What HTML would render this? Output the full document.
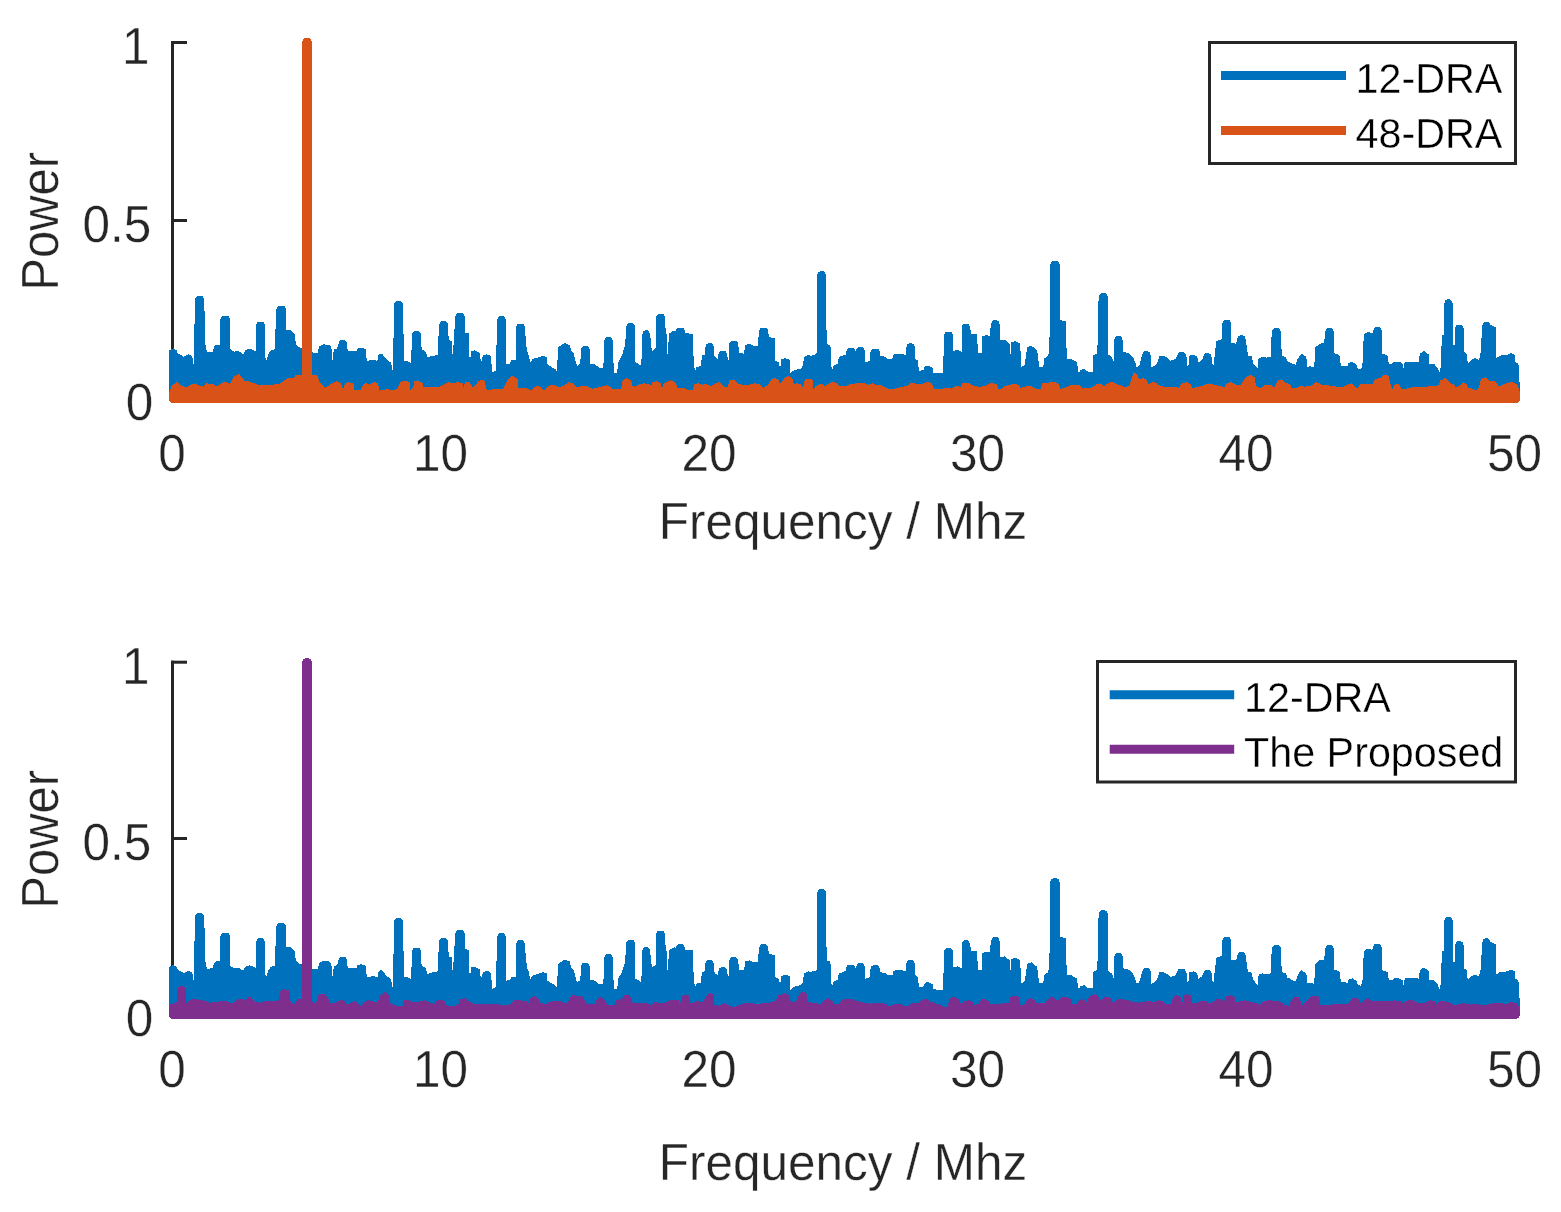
<!DOCTYPE html>
<html><head><meta charset="utf-8"><title>Power spectrum</title>
<style>html,body{margin:0;padding:0;background:#fff;overflow:hidden;}svg{display:block;}</style></head>
<body><svg width="1561" height="1212" viewBox="0 0 1561 1212" font-family="'Liberation Sans', Arial, Helvetica, sans-serif">
<rect width="1561" height="1212" fill="#fff"/>
<rect x="171" y="41.00" width="3" height="357.50" fill="#262626"/>
<rect x="171" y="41.00" width="16" height="3" fill="#262626"/>
<rect x="171" y="219.00" width="16" height="3" fill="#262626"/>
<text transform="translate(149.50,63.80) scale(1,1.03)" font-size="49.5" text-anchor="end" fill="#262626" stroke="#fff" stroke-width="0.35">1</text>
<text transform="translate(151.30,241.80) scale(1,1.03)" font-size="49.5" text-anchor="end" fill="#262626" stroke="#fff" stroke-width="0.35">0.5</text>
<text transform="translate(153.30,419.80) scale(1,1.03)" font-size="49.5" text-anchor="end" fill="#262626" stroke="#fff" stroke-width="0.35">0</text>
<text transform="translate(172.00,471.40) scale(1,1.03)" font-size="49.5" text-anchor="middle" fill="#262626" stroke="#fff" stroke-width="0.35">0</text>
<text transform="translate(440.50,471.40) scale(1,1.03)" font-size="49.5" text-anchor="middle" fill="#262626" stroke="#fff" stroke-width="0.35">10</text>
<text transform="translate(709.00,471.40) scale(1,1.03)" font-size="49.5" text-anchor="middle" fill="#262626" stroke="#fff" stroke-width="0.35">20</text>
<text transform="translate(977.50,471.40) scale(1,1.03)" font-size="49.5" text-anchor="middle" fill="#262626" stroke="#fff" stroke-width="0.35">30</text>
<text transform="translate(1246.00,471.40) scale(1,1.03)" font-size="49.5" text-anchor="middle" fill="#262626" stroke="#fff" stroke-width="0.35">40</text>
<text transform="translate(1514.50,471.40) scale(1,1.03)" font-size="49.5" text-anchor="middle" fill="#262626" stroke="#fff" stroke-width="0.35">50</text>
<text transform="translate(843.00,538.70) scale(1,1.045)" font-size="49.5" text-anchor="middle" fill="#262626" stroke="#fff" stroke-width="0.35">Frequency / Mhz</text>
<text transform="translate(58.00,221.35) rotate(-90) scale(1,1.045)" font-size="49" text-anchor="middle" fill="#262626" stroke="#fff" stroke-width="0.35">Power</text>
<path d="M172.1,403.0 L169.8,401.8 L168.6,399.5 L168.6,356.9 L169.2,350.3 L173.2,348.3 L176.5,350.3 L177.8,353.6 L181.1,354.9 L183.8,356.9 L185.7,355.6 L189.0,354.3 L192.3,356.3 L193.7,364.8 L195.0,299.5 L196.0,297.0 L197.5,295.8 L201.7,295.8 L203.2,297.0 L204.2,299.5 L205.5,345.0 L206.9,352.3 L212.8,351.6 L214.1,346.4 L216.8,344.4 L220.1,345.0 L220.5,319.3 L221.5,316.8 L223.0,315.6 L227.5,315.6 L229.0,316.8 L230.0,319.3 L230.0,349.0 L233.9,351.6 L238.5,351.0 L243.2,354.3 L245.8,349.7 L249.8,348.7 L255.0,351.0 L256.1,351.6 L256.1,325.3 L257.1,322.8 L258.6,321.6 L262.4,321.6 L263.9,322.8 L264.9,325.3 L265.6,362.9 L268.2,354.3 L270.9,350.3 L274.8,349.3 L276.2,309.4 L277.2,306.9 L278.7,305.7 L283.6,305.7 L285.1,306.9 L286.1,309.4 L286.1,330.5 L290.0,329.9 L294.6,334.5 L296.0,344.4 L299.9,347.7 L301.9,347.7 L311.8,352.3 L317.7,353.0 L319.1,346.4 L323.7,344.4 L330.0,345.0 L331.9,350.3 L332.5,359.6 L333.9,349.7 L337.2,348.3 L338.5,343.8 L339.5,341.3 L341.0,340.1 L344.6,340.1 L346.1,341.3 L347.1,343.8 L347.7,351.6 L351.7,351.0 L356.3,351.6 L357.6,348.3 L361.6,347.7 L365.5,349.0 L366.9,360.9 L372.8,359.6 L377.4,360.9 L378.7,354.3 L382.0,353.6 L386.7,359.6 L391.3,362.9 L392.3,374.1 L393.3,355.6 L393.9,304.8 L394.9,302.3 L396.4,301.1 L400.7,301.1 L402.2,302.3 L403.2,304.8 L403.8,360.9 L407.1,360.9 L411.1,362.9 L412.0,334.5 L413.0,332.0 L414.5,330.8 L418.5,330.8 L420.0,332.0 L421.0,334.5 L421.6,349.0 L425.6,351.6 L427.6,357.6 L430.9,356.3 L437.5,354.9 L439.1,324.6 L440.1,322.1 L441.6,320.9 L445.5,320.9 L447.0,322.1 L448.0,324.6 L448.7,339.8 L452.0,341.1 L452.7,358.2 L455.3,316.7 L456.3,314.2 L457.8,313.0 L462.4,313.0 L463.9,314.2 L464.9,316.7 L465.2,332.5 L468.5,333.2 L469.8,363.5 L471.1,351.0 L475.1,350.3 L479.7,353.0 L481.0,362.9 L483.0,355.6 L487.0,354.3 L490.0,355.6 L491.2,356.9 L491.9,372.8 L495.8,370.8 L497.2,320.0 L498.2,317.5 L499.7,316.3 L503.5,316.3 L505.0,317.5 L506.0,320.0 L506.4,364.2 L509.7,363.5 L511.7,360.2 L515.6,360.2 L516.0,327.3 L517.0,324.8 L518.5,323.6 L522.4,323.6 L523.9,324.8 L524.9,327.3 L525.5,335.8 L526.9,351.0 L528.8,355.6 L530.2,362.9 L532.8,358.9 L538.1,357.6 L542.7,355.6 L546.7,356.9 L547.3,364.2 L551.3,366.8 L555.9,369.5 L556.6,371.4 L558.5,347.0 L564.5,343.1 L569.8,345.0 L571.1,351.0 L573.7,353.6 L575.0,358.9 L577.0,366.2 L580.3,363.5 L581.0,349.7 L582.0,347.2 L583.5,346.0 L587.1,346.0 L588.6,347.2 L589.6,349.7 L590.2,363.5 L594.8,364.2 L598.8,367.5 L603.4,367.5 L604.1,341.1 L605.1,338.6 L606.6,337.4 L610.4,337.4 L611.9,338.6 L612.9,341.1 L613.3,359.6 L614.0,372.8 L617.3,372.8 L617.9,362.9 L621.9,355.6 L625.2,345.0 L626.1,326.6 L627.1,324.1 L628.6,322.9 L632.6,322.9 L634.1,324.1 L635.1,326.6 L635.1,362.2 L638.4,363.5 L640.4,366.2 L641.7,358.2 L642.4,333.9 L643.4,331.4 L644.9,330.2 L647.5,330.2 L649.0,331.4 L650.0,333.9 L651.9,351.0 L654.5,349.0 L655.8,348.3 L656.1,317.4 L657.1,314.9 L658.6,313.7 L662.6,313.7 L664.1,314.9 L665.1,317.4 L665.7,333.2 L667.1,334.5 L667.5,353.6 L669.3,333.2 L674.3,330.5 L675.6,331.2 L676.6,328.7 L678.1,327.5 L682.4,327.5 L683.9,328.7 L684.9,331.2 L685.5,333.2 L692.8,333.8 L693.5,355.6 L694.8,371.4 L696.8,366.8 L700.7,366.2 L702.0,355.6 L704.7,354.9 L705.3,347.1 L706.3,344.6 L707.8,343.4 L711.4,343.4 L712.9,344.6 L713.9,347.1 L714.6,356.9 L717.9,358.9 L718.5,354.3 L719.5,351.8 L721.0,350.6 L724.6,350.6 L726.1,351.8 L727.1,354.3 L727.8,359.6 L729.1,359.6 L729.1,344.4 L730.1,341.9 L731.6,340.7 L735.8,340.7 L737.3,341.9 L738.3,344.4 L739.0,353.0 L744.3,353.6 L744.9,345.0 L749.6,343.7 L753.5,345.7 L757.5,345.7 L759.2,331.2 L760.2,328.7 L761.7,327.5 L765.8,327.5 L767.3,328.7 L768.3,331.2 L768.7,337.1 L774.6,338.4 L775.3,360.9 L779.3,362.9 L779.9,371.4 L781.2,359.6 L785.2,358.2 L789.8,359.6 L790.5,373.4 L793.1,370.8 L797.1,369.5 L801.0,368.8 L802.4,366.8 L804.3,356.9 L808.3,354.9 L810.0,355.6 L811.2,356.3 L812.5,354.9 L816.5,354.3 L817.2,275.1 L818.2,272.6 L819.7,271.4 L823.5,271.4 L825.0,272.6 L826.0,275.1 L826.4,327.2 L827.1,344.4 L830.4,345.0 L831.7,370.8 L833.7,365.5 L837.6,363.5 L838.9,356.9 L842.9,355.6 L846.2,354.3 L846.2,351.7 L847.2,349.2 L848.7,348.0 L852.9,348.0 L854.4,349.2 L855.4,351.7 L856.1,348.3 L856.1,350.4 L857.1,347.9 L858.6,346.7 L862.2,346.7 L863.7,347.9 L864.7,350.4 L865.3,362.2 L870.0,360.9 L870.4,352.3 L871.4,349.8 L872.9,348.6 L877.4,348.6 L878.9,349.8 L879.9,352.3 L880.5,355.6 L885.8,356.9 L887.8,358.9 L892.4,358.9 L893.7,354.3 L897.7,353.6 L901.6,353.6 L905.6,354.9 L906.3,347.1 L907.3,344.6 L908.8,343.4 L912.3,343.4 L913.8,344.6 L914.8,347.1 L915.5,358.9 L918.1,360.9 L918.8,370.8 L923.4,370.1 L924.7,366.8 L928.0,365.5 L932.7,368.1 L933.3,372.8 L937.3,373.4 L943.2,373.4 L943.9,335.2 L944.9,332.7 L946.4,331.5 L950.6,331.5 L952.1,332.7 L953.1,335.2 L953.1,351.0 L957.7,349.7 L961.7,351.6 L961.7,327.3 L962.7,324.8 L964.2,323.6 L967.5,323.6 L969.0,324.8 L970.0,327.3 L971.2,333.8 L977.2,334.5 L977.8,353.0 L981.8,353.0 L982.4,336.5 L986.4,335.1 L989.7,335.8 L991.0,324.0 L992.0,321.5 L993.5,320.3 L997.1,320.3 L998.6,321.5 L999.6,324.0 L1000.3,340.4 L1004.9,339.8 L1009.5,343.7 L1010.2,358.9 L1011.2,342.4 L1015.4,341.1 L1020.1,343.7 L1021.4,366.8 L1024.7,364.8 L1027.3,347.0 L1031.3,345.7 L1037.2,350.3 L1039.2,366.8 L1043.2,366.8 L1044.5,358.2 L1048.4,355.6 L1049.8,331.8 L1050.2,264.6 L1051.2,262.1 L1052.7,260.9 L1057.2,260.9 L1058.7,262.1 L1059.7,264.6 L1060.3,320.0 L1065.6,321.3 L1066.9,358.9 L1071.5,358.9 L1076.8,362.2 L1078.8,373.4 L1080.1,370.1 L1084.1,368.8 L1088.7,372.1 L1092.7,372.1 L1093.3,355.6 L1097.3,353.6 L1098.6,296.9 L1099.6,294.4 L1101.1,293.2 L1105.3,293.2 L1106.8,294.4 L1107.8,296.9 L1108.5,354.9 L1111.8,356.9 L1113.8,362.2 L1114.2,339.8 L1115.2,337.3 L1116.7,336.1 L1120.1,336.1 L1121.6,337.3 L1122.6,339.8 L1123.0,351.6 L1128.3,353.0 L1130.0,354.3 L1133.2,357.6 L1135.2,362.2 L1136.5,366.8 L1139.1,366.2 L1142.2,355.0 L1143.2,352.5 L1144.7,351.3 L1148.1,351.3 L1149.6,352.5 L1150.6,355.0 L1151.0,367.5 L1155.0,365.5 L1157.0,363.5 L1159.6,355.6 L1163.6,355.6 L1167.5,357.6 L1170.2,360.9 L1175.4,358.9 L1177.2,355.6 L1178.2,353.1 L1179.7,351.9 L1183.5,351.9 L1185.0,353.1 L1186.0,355.6 L1186.7,356.9 L1188.0,370.8 L1189.3,355.6 L1193.9,354.9 L1197.2,356.9 L1198.5,362.2 L1201.8,360.2 L1203.2,357.0 L1204.2,354.5 L1205.7,353.3 L1209.2,353.3 L1210.7,354.5 L1211.7,357.0 L1212.4,363.5 L1213.1,368.8 L1216.4,341.1 L1221.6,339.1 L1222.3,323.3 L1223.3,320.8 L1224.8,319.6 L1228.4,319.6 L1229.9,320.8 L1230.9,323.3 L1231.5,343.1 L1236.2,343.7 L1237.2,339.1 L1238.2,336.6 L1239.7,335.4 L1243.2,335.4 L1244.7,336.6 L1245.7,339.1 L1246.7,346.4 L1248.0,355.6 L1251.3,355.6 L1253.3,363.5 L1256.6,367.5 L1257.3,370.1 L1258.6,358.2 L1262.6,356.9 L1266.5,357.6 L1270.5,356.9 L1271.8,331.9 L1272.8,329.4 L1274.3,328.2 L1278.5,328.2 L1280.0,329.4 L1281.0,331.9 L1281.7,355.6 L1285.7,356.9 L1287.6,361.5 L1290.0,362.2 L1293.2,364.2 L1295.8,364.8 L1297.2,359.6 L1301.1,353.6 L1306.4,356.9 L1307.1,366.8 L1310.4,366.2 L1314.3,367.5 L1315.0,347.7 L1319.6,343.7 L1324.2,343.1 L1325.1,331.9 L1326.1,329.4 L1327.6,328.2 L1331.4,328.2 L1332.9,329.4 L1333.9,331.9 L1334.1,353.0 L1339.4,354.9 L1341.0,366.2 L1344.7,365.5 L1347.3,366.8 L1348.6,362.9 L1352.6,361.9 L1356.6,364.8 L1357.9,368.8 L1361.2,369.5 L1362.5,363.5 L1363.8,334.5 L1367.8,331.8 L1372.4,333.2 L1373.1,330.6 L1374.1,328.1 L1375.6,326.9 L1379.1,326.9 L1380.6,328.1 L1381.6,330.6 L1382.3,353.6 L1387.6,355.6 L1388.9,364.2 L1392.2,363.5 L1394.8,361.5 L1400.1,362.2 L1402.8,364.2 L1403.4,368.8 L1404.7,362.2 L1409.4,361.5 L1414.6,361.5 L1418.6,362.2 L1419.9,353.6 L1423.9,351.0 L1428.5,354.3 L1429.2,363.5 L1433.8,363.5 L1437.7,368.1 L1439.4,372.8 L1441.0,366.2 L1441.8,334.5 L1444.3,334.5 L1444.3,303.1 L1445.3,300.6 L1446.8,299.4 L1450.1,299.4 L1451.6,300.6 L1452.6,303.1 L1453.0,345.0 L1455.0,345.0 L1455.2,328.2 L1456.2,325.7 L1457.7,324.5 L1461.1,324.5 L1462.6,325.7 L1463.6,328.2 L1464.5,352.3 L1466.5,353.6 L1467.8,363.5 L1471.1,360.2 L1475.0,358.2 L1479.0,360.2 L1480.6,353.0 L1482.3,325.3 L1483.3,322.8 L1484.8,321.6 L1488.1,321.6 L1489.6,322.8 L1490.6,325.3 L1491.5,325.2 L1495.5,327.2 L1496.2,358.2 L1500.1,355.6 L1506.7,354.9 L1510.7,353.0 L1514.6,354.9 L1515.3,362.2 L1517.9,363.5 L1518.9,366.2 L1519.4,376.7 L1519.7,389.9 L1519.9,395.2 L1519.9,399.5 L1518.7,401.8 L1516.4,403.0 Z" fill="#0072BD" shape-rendering="crispEdges"/>
<path d="M172.1,403.0 L169.8,401.8 L168.6,399.5 L168.6,395.9 L171.2,386.0 L177.2,382.0 L181.1,385.3 L186.4,387.3 L190.4,384.6 L195.6,383.3 L199.6,386.0 L203.6,386.6 L206.2,383.3 L212.8,384.0 L216.8,386.6 L222.0,382.7 L226.0,382.0 L230.0,384.0 L233.9,376.7 L239.2,374.1 L244.5,380.7 L251.1,382.0 L257.7,384.6 L265.6,385.3 L278.8,384.0 L284.1,380.7 L288.7,377.4 L293.3,378.7 L296.0,374.7 L301.9,374.7 L311.8,374.7 L317.1,375.4 L319.7,382.0 L325.0,387.9 L330.0,384.6 L336.5,381.3 L341.1,383.3 L343.1,389.3 L345.1,383.3 L349.0,382.0 L353.7,384.0 L354.1,389.9 L360.3,389.9 L363.6,384.0 L366.2,383.3 L369.5,384.6 L374.1,382.0 L378.1,383.3 L379.4,390.6 L386.0,389.3 L393.9,389.9 L397.9,387.9 L400.5,382.0 L405.1,380.4 L409.8,382.0 L410.4,389.9 L413.1,387.9 L414.4,381.3 L417.7,380.4 L422.3,382.7 L423.6,387.3 L432.2,387.3 L438.8,387.3 L444.1,384.6 L448.7,382.0 L453.3,383.3 L457.3,382.0 L462.6,383.3 L463.2,387.9 L465.2,382.0 L469.2,382.0 L473.1,387.9 L477.7,382.0 L481.0,379.4 L485.0,380.7 L486.1,389.3 L490.0,389.9 L493.2,389.3 L498.5,388.6 L503.1,388.6 L505.7,384.0 L508.4,378.7 L513.0,375.4 L517.6,379.4 L518.3,387.9 L523.6,387.9 L527.5,388.6 L531.5,390.6 L534.1,387.3 L537.4,386.0 L540.7,387.3 L544.7,390.6 L547.3,386.6 L552.6,384.6 L556.6,386.0 L559.2,387.3 L564.5,385.3 L568.4,382.0 L572.4,383.3 L576.4,387.3 L583.0,386.0 L586.9,386.0 L592.2,388.6 L598.8,387.3 L604.1,386.0 L606.7,385.3 L610.7,386.6 L612.0,388.6 L621.2,388.6 L622.6,380.7 L626.5,378.0 L631.1,380.7 L632.5,386.0 L635.8,386.6 L638.4,384.6 L644.3,383.3 L650.0,384.6 L651.2,386.0 L652.5,382.0 L656.5,381.3 L660.5,383.3 L661.8,388.6 L663.8,383.3 L670.4,380.4 L675.0,382.0 L677.6,387.9 L683.6,387.9 L687.5,389.9 L692.8,389.9 L694.1,384.0 L698.1,383.3 L702.0,384.6 L706.0,384.0 L711.9,386.0 L715.2,383.3 L719.2,382.0 L722.5,384.6 L724.5,386.6 L727.8,386.6 L729.8,380.0 L733.7,379.4 L737.7,383.3 L743.0,385.3 L749.6,384.6 L754.8,383.3 L759.5,384.0 L763.4,387.9 L768.0,384.6 L771.3,379.4 L774.6,378.0 L778.6,380.0 L779.9,384.0 L785.2,377.4 L788.5,376.1 L792.5,378.7 L793.8,384.0 L797.1,383.3 L801.0,384.6 L803.0,387.3 L805.0,379.4 L810.0,378.7 L812.5,380.0 L813.2,389.3 L815.8,386.0 L821.1,383.3 L825.1,386.0 L829.0,383.3 L833.0,381.3 L837.0,383.3 L839.6,386.0 L846.2,386.0 L850.2,384.0 L856.8,383.3 L864.7,383.3 L868.6,384.6 L872.6,383.3 L876.6,385.3 L881.8,385.3 L885.8,387.3 L889.8,389.3 L895.0,388.6 L900.3,387.3 L905.6,386.0 L910.9,383.3 L914.8,383.3 L918.8,384.6 L924.1,383.3 L928.0,381.3 L932.0,383.3 L934.0,388.6 L939.9,389.3 L945.2,387.9 L951.8,388.6 L953.1,387.3 L957.1,385.3 L960.4,387.3 L962.4,383.3 L970.0,383.3 L970.6,384.6 L974.5,386.0 L979.8,387.3 L986.4,385.3 L992.3,382.7 L997.0,384.6 L998.3,388.6 L1002.2,388.6 L1004.9,386.0 L1012.8,384.0 L1018.1,384.6 L1020.7,387.9 L1027.3,386.0 L1032.6,386.6 L1036.6,388.6 L1040.5,388.6 L1042.5,383.3 L1047.1,382.7 L1054.4,382.0 L1059.0,384.0 L1060.3,389.3 L1065.6,387.3 L1072.2,384.6 L1076.2,385.3 L1080.1,385.3 L1083.4,388.6 L1090.7,387.9 L1096.0,384.6 L1099.9,383.3 L1103.9,386.0 L1109.2,382.7 L1113.1,382.0 L1118.4,384.6 L1125.0,387.3 L1129.0,386.0 L1133.9,372.1 L1137.8,375.4 L1139.1,379.4 L1143.8,378.0 L1147.1,380.7 L1148.4,384.0 L1153.0,382.0 L1155.6,382.7 L1159.6,385.3 L1163.6,386.6 L1170.2,387.3 L1175.4,386.6 L1178.7,387.9 L1182.0,383.3 L1186.7,382.0 L1191.3,384.6 L1191.9,388.6 L1197.9,386.6 L1201.8,386.0 L1205.8,384.0 L1209.8,383.3 L1215.0,385.3 L1220.3,386.0 L1224.3,387.3 L1226.9,383.3 L1230.9,382.0 L1236.2,384.6 L1241.4,384.6 L1243.4,380.7 L1246.7,376.7 L1250.7,374.7 L1254.6,377.4 L1256.0,385.3 L1259.9,388.6 L1265.2,384.6 L1270.5,384.6 L1274.4,387.3 L1277.7,380.7 L1281.7,379.4 L1285.7,382.7 L1290.0,384.0 L1291.9,388.6 L1295.8,387.9 L1299.8,386.0 L1305.1,386.6 L1311.7,385.3 L1315.6,382.0 L1319.6,383.3 L1322.2,385.3 L1326.2,384.6 L1330.2,386.0 L1336.8,386.6 L1342.0,387.3 L1347.3,384.6 L1351.9,383.3 L1355.9,387.9 L1357.9,388.6 L1359.2,384.6 L1365.8,384.0 L1372.4,384.0 L1375.0,379.4 L1380.3,378.0 L1383.6,374.7 L1388.2,374.7 L1390.2,383.3 L1392.2,389.3 L1394.8,384.0 L1398.8,384.0 L1401.4,388.6 L1406.7,388.6 L1412.0,387.3 L1419.9,387.3 L1426.5,386.6 L1433.1,386.0 L1438.4,385.3 L1441.0,379.4 L1442.0,380.0 L1444.7,378.0 L1448.0,380.0 L1450.0,383.3 L1453.9,384.6 L1455.9,387.3 L1459.2,386.0 L1463.2,382.0 L1467.1,384.6 L1468.4,387.9 L1472.4,388.6 L1476.4,390.6 L1479.0,387.3 L1481.0,378.7 L1485.6,377.4 L1488.9,380.7 L1493.5,380.7 L1496.8,383.3 L1498.8,386.6 L1502.8,384.6 L1508.0,382.7 L1512.0,382.0 L1517.3,384.6 L1519.3,389.9 L1520.2,395.2 L1520.2,399.5 L1519.0,401.8 L1516.7,403.0 Z" fill="#D95319" shape-rendering="crispEdges"/>
<path d="M302,395 L302,41.4 L303.2,39.4 L305,37.9 L309,37.9 L310.8,39.4 L312,41.4 L312,395 Z" fill="#D95319" shape-rendering="crispEdges"/>
<rect x="1209.5" y="42.5" width="306" height="121" fill="#fff" stroke="#262626" stroke-width="3"/>
<line x1="1221" y1="75.4" x2="1346" y2="75.4" stroke="#0072BD" stroke-width="9"/>
<text transform="translate(1355.50,93.20) scale(1,1.045)" font-size="41.3" text-anchor="start" fill="#000" stroke="#fff" stroke-width="0.35">12-DRA</text>
<line x1="1221" y1="130.4" x2="1346" y2="130.4" stroke="#D95319" stroke-width="9"/>
<text transform="translate(1355.50,148.30) scale(1,1.045)" font-size="41.3" text-anchor="start" fill="#000" stroke="#fff" stroke-width="0.35">48-DRA</text>
<rect x="171" y="660.70" width="3" height="353.80" fill="#262626"/>
<rect x="171" y="660.70" width="16" height="3" fill="#262626"/>
<rect x="171" y="837.00" width="16" height="3" fill="#262626"/>
<text transform="translate(149.50,683.70) scale(1,1.03)" font-size="49.5" text-anchor="end" fill="#262626" stroke="#fff" stroke-width="0.35">1</text>
<text transform="translate(151.30,860.00) scale(1,1.03)" font-size="49.5" text-anchor="end" fill="#262626" stroke="#fff" stroke-width="0.35">0.5</text>
<text transform="translate(153.30,1036.00) scale(1,1.03)" font-size="49.5" text-anchor="end" fill="#262626" stroke="#fff" stroke-width="0.35">0</text>
<text transform="translate(172.00,1087.20) scale(1,1.03)" font-size="49.5" text-anchor="middle" fill="#262626" stroke="#fff" stroke-width="0.35">0</text>
<text transform="translate(440.50,1087.20) scale(1,1.03)" font-size="49.5" text-anchor="middle" fill="#262626" stroke="#fff" stroke-width="0.35">10</text>
<text transform="translate(709.00,1087.20) scale(1,1.03)" font-size="49.5" text-anchor="middle" fill="#262626" stroke="#fff" stroke-width="0.35">20</text>
<text transform="translate(977.50,1087.20) scale(1,1.03)" font-size="49.5" text-anchor="middle" fill="#262626" stroke="#fff" stroke-width="0.35">30</text>
<text transform="translate(1246.00,1087.20) scale(1,1.03)" font-size="49.5" text-anchor="middle" fill="#262626" stroke="#fff" stroke-width="0.35">40</text>
<text transform="translate(1514.50,1087.20) scale(1,1.03)" font-size="49.5" text-anchor="middle" fill="#262626" stroke="#fff" stroke-width="0.35">50</text>
<text transform="translate(843.00,1180.20) scale(1,1.045)" font-size="49.5" text-anchor="middle" fill="#262626" stroke="#fff" stroke-width="0.35">Frequency / Mhz</text>
<text transform="translate(58.00,839.35) rotate(-90) scale(1,1.045)" font-size="49" text-anchor="middle" fill="#262626" stroke="#fff" stroke-width="0.35">Power</text>
<path d="M172.1,1019.0 L169.8,1017.8 L168.6,1015.5 L168.6,973.4 L169.2,966.9 L173.2,964.9 L176.5,966.9 L177.8,970.1 L181.1,971.4 L183.8,973.4 L185.7,972.1 L189.0,970.8 L192.3,972.7 L193.7,981.2 L195.0,916.7 L196.0,914.2 L197.5,913.0 L201.7,913.0 L203.2,914.2 L204.2,916.7 L205.5,961.6 L206.9,968.8 L212.8,968.2 L214.1,962.9 L216.8,961.0 L220.1,961.6 L220.5,936.2 L221.5,933.8 L223.0,932.6 L227.5,932.6 L229.0,933.8 L230.0,936.2 L230.0,965.6 L233.9,968.2 L238.5,967.5 L243.2,970.8 L245.8,966.2 L249.8,965.3 L255.0,967.5 L256.1,968.2 L256.1,942.1 L257.1,939.6 L258.6,938.4 L262.4,938.4 L263.9,939.6 L264.9,942.1 L265.6,979.3 L268.2,970.8 L270.9,966.9 L274.8,965.8 L276.2,926.4 L277.2,924.0 L278.7,922.8 L283.6,922.8 L285.1,924.0 L286.1,926.4 L286.1,947.3 L290.0,946.6 L294.6,951.2 L296.0,961.0 L299.9,964.2 L301.9,964.2 L311.8,968.8 L317.7,969.5 L319.1,962.9 L323.7,961.0 L330.0,961.6 L331.9,966.9 L332.5,976.0 L333.9,966.2 L337.2,964.9 L338.5,960.4 L339.5,957.9 L341.0,956.7 L344.6,956.7 L346.1,957.9 L347.1,960.4 L347.7,968.2 L351.7,967.5 L356.3,968.2 L357.6,964.9 L361.6,964.2 L365.5,965.6 L366.9,977.3 L372.8,976.0 L377.4,977.3 L378.7,970.8 L382.0,970.1 L386.7,976.0 L391.3,979.3 L392.3,990.4 L393.3,972.1 L393.9,921.9 L394.9,919.4 L396.4,918.2 L400.7,918.2 L402.2,919.4 L403.2,921.9 L403.8,977.3 L407.1,977.3 L411.1,979.3 L412.0,951.2 L413.0,948.8 L414.5,947.6 L418.5,947.6 L420.0,948.8 L421.0,951.2 L421.6,965.6 L425.6,968.2 L427.6,974.0 L430.9,972.7 L437.5,971.4 L439.1,941.4 L440.1,939.0 L441.6,937.8 L445.5,937.8 L447.0,939.0 L448.0,941.4 L448.7,956.4 L452.0,957.7 L452.7,974.7 L455.3,933.6 L456.3,931.1 L457.8,930.0 L462.4,930.0 L463.9,931.1 L464.9,933.6 L465.2,949.2 L468.5,949.9 L469.8,979.9 L471.1,967.5 L475.1,966.9 L479.7,969.5 L481.0,979.3 L483.0,972.1 L487.0,970.8 L490.0,972.1 L491.2,973.4 L491.9,989.0 L495.8,987.1 L497.2,936.9 L498.2,934.4 L499.7,933.2 L503.5,933.2 L505.0,934.4 L506.0,936.9 L506.4,980.6 L509.7,979.9 L511.7,976.6 L515.6,976.6 L516.0,944.1 L517.0,941.6 L518.5,940.4 L522.4,940.4 L523.9,941.6 L524.9,944.1 L525.5,952.5 L526.9,967.5 L528.8,972.1 L530.2,979.3 L532.8,975.3 L538.1,974.0 L542.7,972.1 L546.7,973.4 L547.3,980.6 L551.3,983.2 L555.9,985.8 L556.6,987.7 L558.5,963.6 L564.5,959.7 L569.8,961.6 L571.1,967.5 L573.7,970.1 L575.0,975.3 L577.0,982.5 L580.3,979.9 L581.0,966.2 L582.0,963.8 L583.5,962.6 L587.1,962.6 L588.6,963.8 L589.6,966.2 L590.2,979.9 L594.8,980.6 L598.8,983.8 L603.4,983.8 L604.1,957.8 L605.1,955.3 L606.6,954.1 L610.4,954.1 L611.9,955.3 L612.9,957.8 L613.3,976.0 L614.0,989.0 L617.3,989.0 L617.9,979.3 L621.9,972.1 L625.2,961.6 L626.1,943.4 L627.1,940.9 L628.6,939.7 L632.6,939.7 L634.1,940.9 L635.1,943.4 L635.1,978.6 L638.4,979.9 L640.4,982.5 L641.7,974.7 L642.4,950.6 L643.4,948.1 L644.9,946.9 L647.5,946.9 L649.0,948.1 L650.0,950.6 L651.9,967.5 L654.5,965.6 L655.8,964.9 L656.1,934.3 L657.1,931.8 L658.6,930.6 L662.6,930.6 L664.1,931.8 L665.1,934.3 L665.7,949.9 L667.1,951.2 L667.5,970.1 L669.3,949.9 L674.3,947.3 L675.6,948.0 L676.6,945.5 L678.1,944.3 L682.4,944.3 L683.9,945.5 L684.9,948.0 L685.5,949.9 L692.8,950.5 L693.5,972.1 L694.8,987.7 L696.8,983.2 L700.7,982.5 L702.0,972.1 L704.7,971.4 L705.3,963.6 L706.3,961.2 L707.8,960.0 L711.4,960.0 L712.9,961.2 L713.9,963.6 L714.6,973.4 L717.9,975.3 L718.5,970.8 L719.5,968.3 L721.0,967.2 L724.6,967.2 L726.1,968.3 L727.1,970.8 L727.8,976.0 L729.1,976.0 L729.1,961.0 L730.1,958.6 L731.6,957.4 L735.8,957.4 L737.3,958.6 L738.3,961.0 L739.0,969.5 L744.3,970.1 L744.9,961.6 L749.6,960.3 L753.5,962.3 L757.5,962.3 L759.2,948.0 L760.2,945.5 L761.7,944.3 L765.8,944.3 L767.3,945.5 L768.3,948.0 L768.7,953.8 L774.6,955.1 L775.3,977.3 L779.3,979.3 L779.9,987.7 L781.2,976.0 L785.2,974.7 L789.8,976.0 L790.5,989.7 L793.1,987.1 L797.1,985.8 L801.0,985.1 L802.4,983.2 L804.3,973.4 L808.3,971.4 L810.0,972.1 L811.2,972.7 L812.5,971.4 L816.5,970.8 L817.2,892.5 L818.2,890.0 L819.7,888.8 L823.5,888.8 L825.0,890.0 L826.0,892.5 L826.4,944.0 L827.1,961.0 L830.4,961.6 L831.7,987.1 L833.7,981.9 L837.6,979.9 L838.9,973.4 L842.9,972.1 L846.2,970.8 L846.2,968.2 L847.2,965.7 L848.7,964.5 L852.9,964.5 L854.4,965.7 L855.4,968.2 L856.1,964.9 L856.1,966.9 L857.1,964.4 L858.6,963.2 L862.2,963.2 L863.7,964.4 L864.7,966.9 L865.3,978.6 L870.0,977.3 L870.4,968.9 L871.4,966.4 L872.9,965.2 L877.4,965.2 L878.9,966.4 L879.9,968.9 L880.5,972.1 L885.8,973.4 L887.8,975.3 L892.4,975.3 L893.7,970.8 L897.7,970.1 L901.6,970.1 L905.6,971.4 L906.3,963.6 L907.3,961.2 L908.8,960.0 L912.3,960.0 L913.8,961.2 L914.8,963.6 L915.5,975.3 L918.1,977.3 L918.8,987.1 L923.4,986.4 L924.7,983.2 L928.0,981.9 L932.7,984.5 L933.3,989.0 L937.3,989.7 L943.2,989.7 L943.9,951.9 L944.9,949.4 L946.4,948.2 L950.6,948.2 L952.1,949.4 L953.1,951.9 L953.1,967.5 L957.7,966.2 L961.7,968.2 L961.7,944.1 L962.7,941.6 L964.2,940.4 L967.5,940.4 L969.0,941.6 L970.0,944.1 L971.2,950.5 L977.2,951.2 L977.8,969.5 L981.8,969.5 L982.4,953.2 L986.4,951.8 L989.7,952.5 L991.0,940.8 L992.0,938.3 L993.5,937.1 L997.1,937.1 L998.6,938.3 L999.6,940.8 L1000.3,957.1 L1004.9,956.4 L1009.5,960.3 L1010.2,975.3 L1011.2,959.0 L1015.4,957.7 L1020.1,960.3 L1021.4,983.2 L1024.7,981.2 L1027.3,963.6 L1031.3,962.3 L1037.2,966.9 L1039.2,983.2 L1043.2,983.2 L1044.5,974.7 L1048.4,972.1 L1049.8,948.6 L1050.2,882.1 L1051.2,879.6 L1052.7,878.4 L1057.2,878.4 L1058.7,879.6 L1059.7,882.1 L1060.3,936.8 L1065.6,938.1 L1066.9,975.3 L1071.5,975.3 L1076.8,978.6 L1078.8,989.7 L1080.1,986.4 L1084.1,985.1 L1088.7,988.4 L1092.7,988.4 L1093.3,972.1 L1097.3,970.1 L1098.6,914.0 L1099.6,911.6 L1101.1,910.4 L1105.3,910.4 L1106.8,911.6 L1107.8,914.0 L1108.5,971.4 L1111.8,973.4 L1113.8,978.6 L1114.2,956.5 L1115.2,954.0 L1116.7,952.8 L1120.1,952.8 L1121.6,954.0 L1122.6,956.5 L1123.0,968.2 L1128.3,969.5 L1130.0,970.8 L1133.2,974.0 L1135.2,978.6 L1136.5,983.2 L1139.1,982.5 L1142.2,971.5 L1143.2,969.0 L1144.7,967.8 L1148.1,967.8 L1149.6,969.0 L1150.6,971.5 L1151.0,983.8 L1155.0,981.9 L1157.0,979.9 L1159.6,972.1 L1163.6,972.1 L1167.5,974.0 L1170.2,977.3 L1175.4,975.3 L1177.2,972.1 L1178.2,969.6 L1179.7,968.5 L1183.5,968.5 L1185.0,969.6 L1186.0,972.1 L1186.7,973.4 L1188.0,987.1 L1189.3,972.1 L1193.9,971.4 L1197.2,973.4 L1198.5,978.6 L1201.8,976.6 L1203.2,973.4 L1204.2,971.0 L1205.7,969.8 L1209.2,969.8 L1210.7,971.0 L1211.7,973.4 L1212.4,979.9 L1213.1,985.1 L1216.4,957.7 L1221.6,955.8 L1222.3,940.1 L1223.3,937.7 L1224.8,936.5 L1228.4,936.5 L1229.9,937.7 L1230.9,940.1 L1231.5,959.7 L1236.2,960.3 L1237.2,955.8 L1238.2,953.3 L1239.7,952.1 L1243.2,952.1 L1244.7,953.3 L1245.7,955.8 L1246.7,962.9 L1248.0,972.1 L1251.3,972.1 L1253.3,979.9 L1256.6,983.8 L1257.3,986.4 L1258.6,974.7 L1262.6,973.4 L1266.5,974.0 L1270.5,973.4 L1271.8,948.6 L1272.8,946.2 L1274.3,945.0 L1278.5,945.0 L1280.0,946.2 L1281.0,948.6 L1281.7,972.1 L1285.7,973.4 L1287.6,978.0 L1290.0,978.6 L1293.2,980.6 L1295.8,981.2 L1297.2,976.0 L1301.1,970.1 L1306.4,973.4 L1307.1,983.2 L1310.4,982.5 L1314.3,983.8 L1315.0,964.2 L1319.6,960.3 L1324.2,959.7 L1325.1,948.6 L1326.1,946.2 L1327.6,945.0 L1331.4,945.0 L1332.9,946.2 L1333.9,948.6 L1334.1,969.5 L1339.4,971.4 L1341.0,982.5 L1344.7,981.9 L1347.3,983.2 L1348.6,979.3 L1352.6,978.3 L1356.6,981.2 L1357.9,985.1 L1361.2,985.8 L1362.5,979.9 L1363.8,951.2 L1367.8,948.6 L1372.4,949.9 L1373.1,947.3 L1374.1,944.8 L1375.6,943.7 L1379.1,943.7 L1380.6,944.8 L1381.6,947.3 L1382.3,970.1 L1387.6,972.1 L1388.9,980.6 L1392.2,979.9 L1394.8,978.0 L1400.1,978.6 L1402.8,980.6 L1403.4,985.1 L1404.7,978.6 L1409.4,978.0 L1414.6,978.0 L1418.6,978.6 L1419.9,970.1 L1423.9,967.5 L1428.5,970.8 L1429.2,979.9 L1433.8,979.9 L1437.7,984.5 L1439.4,989.0 L1441.0,982.5 L1441.8,951.2 L1444.3,951.2 L1444.3,920.2 L1445.3,917.7 L1446.8,916.5 L1450.1,916.5 L1451.6,917.7 L1452.6,920.2 L1453.0,961.6 L1455.0,961.6 L1455.2,945.0 L1456.2,942.5 L1457.7,941.3 L1461.1,941.3 L1462.6,942.5 L1463.6,945.0 L1464.5,968.8 L1466.5,970.1 L1467.8,979.9 L1471.1,976.6 L1475.0,974.7 L1479.0,976.6 L1480.6,969.5 L1482.3,942.1 L1483.3,939.6 L1484.8,938.4 L1488.1,938.4 L1489.6,939.6 L1490.6,942.1 L1491.5,942.1 L1495.5,944.0 L1496.2,974.7 L1500.1,972.1 L1506.7,971.4 L1510.7,969.5 L1514.6,971.4 L1515.3,978.6 L1517.9,979.9 L1518.9,982.5 L1519.4,993.0 L1519.7,1006.0 L1519.9,1011.2 L1519.9,1015.5 L1518.7,1017.8 L1516.4,1019.0 Z" fill="#0072BD" shape-rendering="crispEdges"/>
<path d="M172.1,1019.0 L169.8,1017.8 L168.6,1015.5 L168.6,1009.9 L169.9,1004.0 L174.5,1003.3 L176.5,1002.6 L177.2,990.1 L178.2,987.6 L179.7,986.4 L183.2,986.4 L184.7,987.6 L185.7,990.1 L186.4,1002.6 L190.4,1000.0 L194.3,998.7 L199.6,1000.0 L204.9,1000.7 L210.2,1002.6 L215.4,1002.0 L220.7,1001.3 L224.7,1000.7 L228.6,1002.0 L232.6,1003.3 L236.6,1000.0 L240.5,998.7 L244.5,1000.0 L249.8,996.7 L253.7,1000.0 L255.0,1002.0 L260.3,1002.6 L265.6,1000.7 L270.9,1000.7 L274.8,1001.3 L278.8,1000.0 L280.1,990.8 L284.7,988.8 L289.4,990.8 L290.7,1002.6 L294.6,1004.0 L297.3,999.3 L301.9,998.7 L311.8,1001.3 L315.8,1004.0 L318.4,994.7 L323.0,993.4 L327.6,996.7 L330.0,1002.6 L333.8,1003.4 L336.9,1001.9 L341.5,999.6 L345.4,1001.1 L346.9,1005.0 L350.8,1002.7 L355.4,1001.1 L357.7,1002.7 L360.7,1006.5 L363.8,1002.7 L367.7,999.6 L371.5,1001.1 L377.7,1002.7 L380.0,995.0 L384.6,992.4 L388.4,994.2 L390.0,1002.7 L393.8,1005.0 L396.9,1006.5 L403.0,1005.7 L403.8,1000.4 L409.2,1000.4 L412.3,1001.9 L416.1,1001.9 L421.5,1001.1 L424.6,1000.4 L430.7,1002.7 L434.5,1004.2 L436.9,1000.4 L440.7,999.6 L444.5,1001.1 L446.1,1005.0 L450.7,1006.5 L455.3,1005.7 L459.1,1004.2 L460.7,998.8 L465.3,998.4 L469.1,1001.1 L472.2,1003.4 L476.8,1004.2 L481.4,1003.4 L489.1,1004.2 L496.8,1004.2 L504.5,1005.0 L507.6,1005.7 L510.7,1003.4 L513.7,1000.4 L519.9,1000.4 L526.8,1001.1 L528.3,1003.4 L530.6,997.3 L535.3,996.2 L538.3,998.1 L539.1,1002.7 L542.9,1003.4 L546.0,1005.0 L549.1,1001.9 L555.2,1001.1 L560.0,1001.1 L567.7,1003.9 L569.2,998.8 L572.3,995.3 L580.0,995.7 L583.8,997.3 L585.4,1003.4 L595.4,1003.9 L596.9,998.8 L600.7,996.8 L603.8,998.1 L605.4,1001.9 L608.4,1005.0 L614.6,1005.0 L616.1,1000.4 L621.5,998.8 L624.6,995.0 L629.2,994.7 L631.5,998.8 L633.0,1003.4 L638.4,1002.7 L644.6,1002.7 L650.7,1005.0 L655.3,1001.9 L661.5,1003.4 L667.6,1001.9 L672.2,999.6 L678.4,999.6 L679.9,1005.7 L681.5,996.5 L685.3,994.2 L689.2,995.7 L689.9,1003.4 L693.8,1002.7 L696.8,1001.1 L703.0,1001.9 L705.3,997.3 L709.9,993.1 L713.8,995.0 L714.5,1005.0 L719.9,1005.7 L724.5,1003.4 L729.1,1005.7 L734.5,1007.3 L739.1,1005.0 L744.5,1003.4 L752.2,1002.4 L755.3,1004.2 L761.4,1003.4 L769.1,1002.7 L775.3,1001.1 L778.3,995.3 L784.5,993.4 L789.1,995.0 L790.6,1001.1 L795.2,1002.7 L800.0,992.7 L805.4,991.6 L806.9,995.0 L807.7,1001.9 L815.4,1003.4 L821.5,1003.9 L824.6,999.6 L828.4,998.4 L832.3,1001.1 L833.8,1003.9 L839.2,1003.9 L841.5,1000.4 L846.1,998.8 L852.3,998.8 L856.9,1001.1 L864.6,1002.7 L870.7,1003.9 L875.3,1002.7 L881.5,1003.0 L886.1,1003.9 L889.2,1006.5 L895.3,1004.2 L899.9,1003.4 L904.6,1005.7 L909.2,1005.7 L912.2,1002.7 L918.4,1002.7 L923.0,999.6 L927.6,998.8 L930.7,1001.9 L935.3,1003.4 L939.9,1004.2 L944.5,1007.3 L947.6,1006.5 L949.9,998.1 L953.8,996.2 L958.4,998.8 L961.4,1004.2 L964.5,1001.1 L969.1,1000.0 L973.0,1001.9 L974.5,1005.0 L979.1,1003.4 L981.4,999.6 L985.3,998.8 L988.3,1001.1 L989.9,1004.2 L995.3,1004.2 L999.9,1004.2 L1004.5,1002.7 L1009.1,1002.7 L1010.6,996.5 L1015.3,995.3 L1019.1,997.3 L1019.9,1005.0 L1024.5,1004.2 L1026.8,1000.4 L1030.6,998.4 L1034.5,1000.4 L1036.0,1002.7 L1040.0,1003.4 L1044.6,1002.7 L1047.7,999.6 L1051.5,996.2 L1055.4,998.1 L1056.9,1001.1 L1061.5,997.3 L1066.9,997.3 L1071.5,999.6 L1072.3,1004.2 L1076.9,1003.9 L1079.2,999.9 L1083.8,998.8 L1086.1,1003.4 L1089.2,996.5 L1093.8,994.2 L1097.7,995.7 L1100.7,1000.4 L1104.6,996.8 L1107.7,996.5 L1111.5,998.8 L1113.0,1004.2 L1116.9,999.6 L1121.5,999.3 L1127.6,999.9 L1132.3,1001.9 L1138.4,1002.7 L1147.6,1001.1 L1153.8,1001.9 L1158.4,1000.4 L1163.0,1001.1 L1165.3,1004.2 L1171.5,1004.2 L1173.0,996.5 L1176.8,995.3 L1180.7,997.3 L1182.2,1004.2 L1183.8,994.7 L1187.6,994.2 L1191.4,995.7 L1192.2,1002.7 L1196.8,1002.7 L1201.4,1001.1 L1206.1,1000.4 L1209.1,1004.2 L1214.5,1001.1 L1216.8,998.4 L1221.4,998.8 L1224.5,1001.1 L1226.0,996.5 L1230.7,995.3 L1234.5,997.3 L1235.3,1002.7 L1239.9,1001.1 L1244.5,1000.4 L1250.6,1001.9 L1258.3,1003.4 L1259.9,1005.0 L1262.9,1001.9 L1269.1,999.6 L1273.7,1001.1 L1280.0,1001.1 L1284.6,1005.0 L1289.2,1005.7 L1291.5,999.6 L1295.4,996.2 L1300.0,998.1 L1301.5,1005.7 L1305.4,1002.7 L1310.8,996.5 L1315.4,995.3 L1319.2,997.3 L1320.0,1004.5 L1326.1,1005.0 L1333.8,1004.2 L1341.5,1003.9 L1349.2,1003.4 L1351.5,998.8 L1355.3,997.3 L1359.2,999.6 L1360.0,1003.9 L1364.6,999.6 L1368.4,998.4 L1372.3,1001.1 L1379.9,1001.1 L1387.6,1001.1 L1393.8,1000.4 L1399.9,1001.1 L1403.0,1003.0 L1406.8,1001.1 L1410.7,999.6 L1414.5,1001.1 L1418.4,1003.4 L1424.5,1002.7 L1430.7,1000.4 L1434.5,1000.8 L1436.8,1004.2 L1439.9,1001.1 L1444.5,1000.8 L1449.1,1002.7 L1455.3,1005.7 L1458.4,1004.2 L1463.0,1002.7 L1469.1,1004.2 L1476.8,1004.2 L1484.5,1005.0 L1490.6,1003.9 L1495.3,1002.7 L1501.4,1002.7 L1504.5,1004.2 L1510.6,1002.4 L1516.8,1002.7 L1519.1,1007.3 L1519.9,1013.4 L1519.9,1015.5 L1518.7,1017.8 L1516.4,1019.0 Z" fill="#7E2F8E" shape-rendering="crispEdges"/>
<path d="M302,1012 L302,661.7 L303.2,659.7 L305,658.2 L309,658.2 L310.8,659.7 L312,661.7 L312,1012 Z" fill="#7E2F8E" shape-rendering="crispEdges"/>
<rect x="1097.5" y="661.5" width="418" height="120.5" fill="#fff" stroke="#262626" stroke-width="3"/>
<line x1="1109.7" y1="694.7" x2="1234.2" y2="694.7" stroke="#0072BD" stroke-width="9"/>
<text transform="translate(1244.00,712.00) scale(1,1.045)" font-size="41.3" text-anchor="start" fill="#000" stroke="#fff" stroke-width="0.35">12-DRA</text>
<line x1="1109.7" y1="749.2" x2="1234.2" y2="749.2" stroke="#7E2F8E" stroke-width="9"/>
<text transform="translate(1244.00,766.70) scale(1,1.045)" font-size="41.3" text-anchor="start" fill="#000" stroke="#fff" stroke-width="0.35">The Proposed</text>
</svg></body></html>
